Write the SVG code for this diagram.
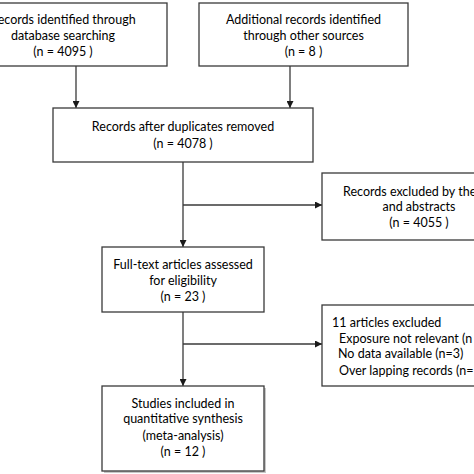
<svg xmlns="http://www.w3.org/2000/svg" width="474" height="474" viewBox="0 0 474 474">
<defs>
<style>
.box{fill:#fff;stroke:#3a3a3a;stroke-width:1.3}
.t{font-family:Lato,"Open Sans","Liberation Sans",sans-serif;font-size:12.5px;fill:#000}
.c{text-anchor:middle}
.ln{fill:none;stroke:#3a3a3a;stroke-width:1.3}
</style>
<marker id="ah" viewBox="0 0 10 10" refX="10" refY="5" markerWidth="7" markerHeight="7" markerUnits="userSpaceOnUse" orient="auto">
<path d="M0,0 L10,5 L0,10 Z" fill="#1a1a1a"/>
</marker>
</defs>
<rect width="474" height="474" fill="#fff"/>
<g id="connectors">
<line class="ln" x1="76" y1="66" x2="76" y2="108" marker-end="url(#ah)"/>
<line class="ln" x1="290" y1="66" x2="290" y2="108" marker-end="url(#ah)"/>
<line class="ln" x1="183" y1="162" x2="183" y2="247" marker-end="url(#ah)"/>
<line class="ln" x1="183" y1="205" x2="322" y2="205" marker-end="url(#ah)"/>
<line class="ln" x1="183" y1="312" x2="183" y2="386" marker-end="url(#ah)"/>
<line class="ln" x1="183" y1="344" x2="322" y2="344" marker-end="url(#ah)"/>
</g>
<g id="n1">
<rect class="box" x="-2" y="3" width="169" height="63"/>
<text class="t c" x="63" y="24">Records identified through</text>
<text class="t c" x="63" y="40">database searching</text>
<text class="t c" x="63" y="56">(n = 4095 )</text>
</g>
<g id="n2">
<rect class="box" x="199" y="3" width="209" height="63"/>
<text class="t c" x="303.5" y="24">Additional records identified</text>
<text class="t c" x="303.5" y="40">through other sources</text>
<text class="t c" x="303.5" y="56">(n = 8 )</text>
</g>
<g id="n3">
<rect class="box" x="53" y="108" width="260" height="54"/>
<text class="t c" x="183" y="131">Records after duplicates removed</text>
<text class="t c" x="183" y="148">(n = 4078 )</text>
</g>
<g id="n4">
<rect class="box" x="322" y="173" width="160" height="67"/>
<text class="t" x="343" y="196">Records excluded by the</text>
<text class="t c" x="419" y="211">and abstracts</text>
<text class="t c" x="419" y="227">(n = 4055 )</text>
</g>
<g id="n5">
<rect class="box" x="102" y="247" width="162" height="65"/>
<text class="t c" x="183" y="269">Full-text articles assessed</text>
<text class="t c" x="183" y="285">for eligibility</text>
<text class="t c" x="183" y="301">(n = 23 )</text>
</g>
<g id="n6">
<rect class="box" x="322" y="305" width="160" height="81"/>
<text class="t" x="332" y="327">11 articles excluded</text>
<text class="t" x="339" y="343">Exposure not relevant (n</text>
<text class="t" x="338" y="358">No data available (n=3)</text>
<text class="t" x="339" y="375">Over lapping records (n=1</text>
</g>
<g id="n7">
<rect x="104" y="388" width="162" height="85" fill="#c8c8c8"/>
<rect class="box" x="102" y="386" width="162" height="85"/>
<text class="t c" x="183" y="408">Studies included in</text>
<text class="t c" x="183" y="423">quantitative synthesis</text>
<text class="t c" x="183" y="440">(meta-analysis)</text>
<text class="t c" x="183" y="456">(n = 12 )</text>
</g>
</svg>
